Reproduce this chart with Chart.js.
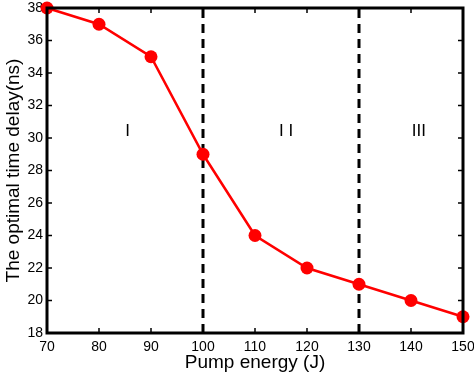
<!DOCTYPE html>
<html>
<head>
<meta charset="utf-8">
<script src="https://cdn.jsdelivr.net/npm/chart.js@4"></script>
<style>
    html, body { margin: 0; padding: 0; background: #fff; }
    #wrap { width: 474px; height: 378px; }
</style>
</head>
<body>
<div id="wrap"><canvas id="delayChart" width="474" height="378"></canvas></div>
<script>
const pumpEnergy = [70, 80, 90, 100, 110, 120, 130, 140, 150];
const timeDelay = [38, 37, 35, 29, 24, 22, 21, 20, 19];
const boundaries = [100, 130];
const regionLabels = [
    { text: 'I', x: 85.5, y: 30.4 },
    { text: 'I I', x: 116, y: 30.4 },
    { text: 'III', x: 141.5, y: 30.4 }
];
const xTicks = [70, 80, 90, 100, 110, 120, 130, 140, 150];
const yTicks = [18, 20, 22, 24, 26, 28, 30, 32, 34, 36, 38];

const fontFamily = '"Liberation Sans", Arial, sans-serif';

const frameAndTicks = {
    id: 'frameAndTicks',
    afterDatasetsDraw(chart) {
        const ctx = chart.ctx;
        const a = chart.chartArea;
        const xs = chart.scales.x;
        const ys = chart.scales.y;
        ctx.save();
        ctx.strokeStyle = '#000';
        ctx.lineWidth = 1.5;
        xTicks.forEach(v => {
            const px = xs.getPixelForValue(v);
            ctx.beginPath();
            ctx.moveTo(px, a.bottom); ctx.lineTo(px, a.bottom - 5);
            ctx.moveTo(px, a.top); ctx.lineTo(px, a.top + 5);
            ctx.stroke();
        });
        yTicks.forEach(v => {
            const py = ys.getPixelForValue(v);
            ctx.beginPath();
            ctx.moveTo(a.left, py); ctx.lineTo(a.left + 5, py);
            ctx.moveTo(a.right, py); ctx.lineTo(a.right - 5, py);
            ctx.stroke();
        });
        ctx.lineWidth = 3;
        ctx.strokeRect(a.left, a.top, a.right - a.left, a.bottom - a.top);

        // region labels
        ctx.fillStyle = '#000';
        ctx.font = '17px ' + fontFamily;
        ctx.textAlign = 'center';
        ctx.textBaseline = 'middle';
        regionLabels.forEach(l => {
            ctx.fillText(l.text, xs.getPixelForValue(l.x), ys.getPixelForValue(l.y));
        });
        ctx.restore();
    }
};

const boundarySets = boundaries.map(b => ({
    data: [{ x: b, y: 18 }, { x: b, y: 38 }],
    borderColor: '#000',
    borderWidth: 3,
    borderDash: [9, 6],
    pointRadius: 0,
    fill: false,
    order: 2
}));

new Chart(document.getElementById('delayChart').getContext('2d'), {
    type: 'line',
    data: {
        datasets: [
            {
                data: pumpEnergy.map((e, i) => ({ x: e, y: timeDelay[i] })),
                borderColor: '#f00',
                backgroundColor: '#f00',
                borderWidth: 2.5,
                pointRadius: 6.5,
                pointBorderWidth: 0,
                clip: false,
                order: 1
            },
            ...boundarySets
        ]
    },
    options: {
        responsive: false,
        animation: false,
        layout: { padding: { top: 8, right: 11, left: 2, bottom: 0 } },
        plugins: { legend: { display: false }, tooltip: { enabled: false } },
        scales: {
            x: {
                type: 'linear',
                min: 70,
                max: 150,
                afterBuildTicks: s => { s.ticks = xTicks.map(v => ({ value: v })); },
                afterFit: s => { s.height = 45; s.paddingLeft = 0; s.paddingRight = 0; },
                grid: { display: false, drawTicks: false },
                border: { display: false },
                ticks: { color: '#000', padding: 6, maxRotation: 0, font: { size: 14, family: fontFamily } },
                title: { display: true, text: 'Pump energy (J)', color: '#000', padding: { top: 0, bottom: 4 }, font: { size: 19, family: fontFamily } }
            },
            y: {
                min: 18,
                max: 38,
                afterBuildTicks: s => { s.ticks = yTicks.map(v => ({ value: v })); },
                afterFit: s => { s.width = 45; s.paddingTop = 0; s.paddingBottom = 0; },
                grid: { display: false, drawTicks: false },
                border: { display: false },
                ticks: { color: '#000', padding: 4, font: { size: 14, family: fontFamily } },
                title: { display: true, text: 'The optimal time delay(ns)', color: '#000', padding: { top: 0, bottom: 0 }, font: { size: 19, family: fontFamily } }
            }
        }
    },
    plugins: [frameAndTicks]
});
</script>
</body>
</html>
